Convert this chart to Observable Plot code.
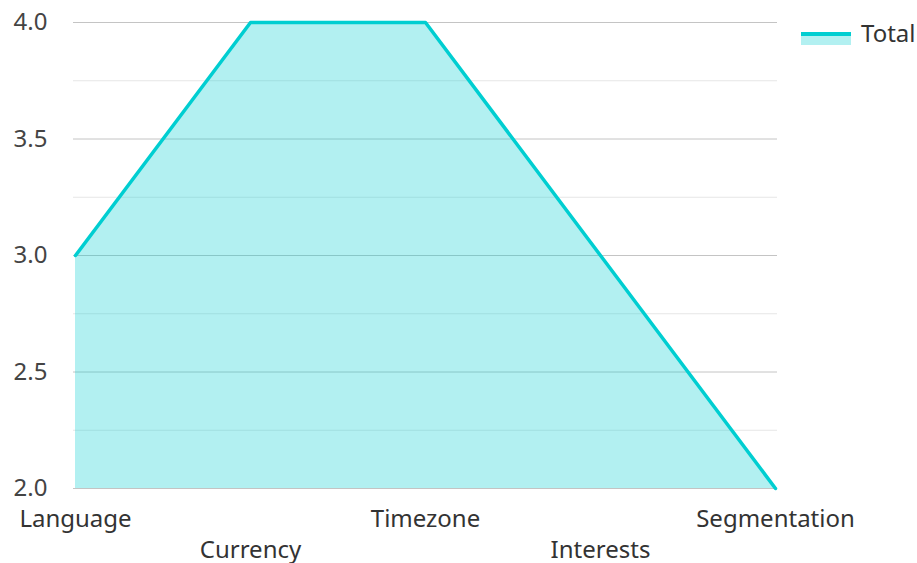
<!DOCTYPE html>
<html>
<head>
<meta charset="utf-8">
<script src="https://cdn.jsdelivr.net/npm/d3@7"></script>
<script src="https://cdn.jsdelivr.net/npm/@observablehq/plot@0.6"></script>
<style>
  body { margin: 0; background: #fff; font-family: "Noto Sans", sans-serif; }
  #wrap { position: relative; width: 917px; height: 563px; }
  #legend { position: absolute; left: 801px; top: 16px; display: flex; align-items: center; font-size: 24px; color: #333; }
  #legend .sw { width: 50px; height: 13px; box-sizing: border-box; border-top: 4px solid #00CED1; background: #B2F0F1; margin-right: 10px; margin-top: 12px; }
</style>
</head>
<body>
<div id="wrap"><div id="legend"><div class="sw"></div><span>Total</span></div></div>
<script>
const categories = ["Language", "Currency", "Timezone", "Interests", "Segmentation"];
const totals = [3, 4, 4, 3, 2];
const seriesName = "Total";
const yDomain = [2, 4];
const majorTicks = [2, 2.5, 3, 3.5, 4];
const minorTicks = [2.25, 2.75, 3.25, 3.75];

const data = categories.map((c, i) => ({cat: c, value: totals[i]}));
const lineColor = "#00CED1";
const upper = categories.filter((_, i) => i % 2 === 0);
const lower = categories.filter((_, i) => i % 2 === 1);

const chart = Plot.plot({
  width: 917,
  height: 563,
  marginLeft: 75,
  marginRight: 142,
  marginTop: 22,
  marginBottom: 75,
  style: {fontFamily: "Noto Sans, sans-serif", fontSize: "24px", color: "#333", background: "transparent", overflow: "visible"},
  x: {type: "point", domain: categories, padding: 0},
  y: {domain: yDomain},
  marks: [
    Plot.ruleY(minorTicks, {stroke: "#e6e6e6", strokeWidth: 1, insetLeft: -2, insetRight: -2}),
    Plot.ruleY(majorTicks, {stroke: "#c4c4c4", strokeWidth: 1, insetLeft: -2, insetRight: -2}),
    Plot.areaY(data, {x: "cat", y1: () => yDomain[0], y2: "value", fill: lineColor, fillOpacity: 0.3}),
    Plot.lineY(data, {x: "cat", y: "value", stroke: lineColor, strokeWidth: 3.5}),
    Plot.axisY({ticks: majorTicks, tickFormat: d3.format(".1f"), tickSize: 0, tickPadding: 28, fill: "#444", fontSize: 24, label: null}),
    Plot.axisX({ticks: upper, tickSize: 0, tickPadding: 21, fill: "#333", fontSize: 24, label: null}),
    Plot.axisX({ticks: lower, tickSize: 0, tickPadding: 52, fill: "#333", fontSize: 24, label: null})
  ]
});
document.getElementById("wrap").prepend(chart);
</script>
</body>
</html>
